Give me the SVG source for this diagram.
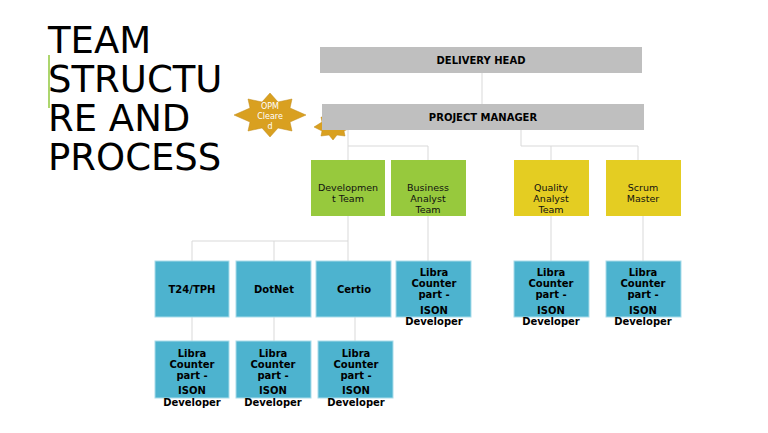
<svg xmlns="http://www.w3.org/2000/svg" width="768" height="433" viewBox="0 0 768 433">
<style>
text{font-family:"DejaVu Sans",sans-serif;text-anchor:middle}
.g{fill:#bfbfbf}.gr{fill:#97c93d}.y{fill:#e4cd22}.b{fill:#4db3cf;stroke:#a9dcea;stroke-width:1}
.bt{font-size:10px;font-weight:bold;fill:#000}
.nt{font-size:9.5px;fill:#111}
.c{stroke:#d9d9d9;stroke-width:1;fill:none}
.st{fill:#d9a020;stroke:#c08a18;stroke-width:0.5}
</style>
<rect width="768" height="433" fill="#fff"/>
<line x1="49" y1="55" x2="49" y2="108" stroke="#92c83e" stroke-width="1.5"/>
<text x="48" y="53" style="text-anchor:start;font-size:37px;fill:#000">TEAM</text>
<text x="48" y="92" style="text-anchor:start;font-size:37px;fill:#000">STRUCTU</text>
<text x="48" y="131" style="text-anchor:start;font-size:37px;fill:#000">RE AND</text>
<text x="48" y="170" style="text-anchor:start;font-size:37px;fill:#000">PROCESS</text>
<g id="connectors" class="c">
<path d="M482 73V104"/>
<path d="M348 130V160M348 146H428V160"/>
<path d="M521 130V146H638V160M551 146V160"/>
<path d="M348 216V241H192V261M274 241V261M348 241V261"/>
<path d="M428 216V261M551 216V261M643 216V261"/>
<path d="M192 317V341M274 317V341M355 317V341"/>
</g>
<g id="star1"><polygon class="st" points="270,93 278,102 292,99 290,108 306,115 290,122 292,131 278,128 270,137 262,128 248,131 250,122 234,115 250,108 248,99 262,102"/>
<text x="270" y="109" style="font-size:8px;fill:#fff">OPM</text><text x="270" y="119" style="font-size:8px;fill:#fff">Cleare</text><text x="270" y="129" style="font-size:8px;fill:#fff">d</text></g>
<g id="star2"><polygon class="st" points="333,113 337,118 345,117 344,122 352,127 344,131 345,136 337,135 333,140 329,135 321,136 322,131 314,127 322,122 321,117 329,118"/>
<text x="333" y="129" style="font-size:5px;fill:#fff">OPM</text></g>
<g id="dh"><rect class="g" x="320" y="47" width="322" height="26"/><text class="bt" x="481" y="64">DELIVERY HEAD</text></g>
<g id="pm"><rect class="g" x="322" y="104" width="322" height="26"/><text class="bt" x="483" y="121">PROJECT MANAGER</text></g>
<g id="dev"><rect class="gr" x="311" y="160" width="74" height="56"/><text class="nt" x="348" y="191">Developmen</text><text class="nt" x="348" y="202">t Team</text></g>
<g id="ba"><rect class="gr" x="391" y="160" width="75" height="56"/><text class="nt" x="428" y="191">Business</text><text class="nt" x="428" y="202">Analyst</text><text class="nt" x="428" y="213">Team</text></g>
<g id="qa"><rect class="y" x="514" y="160" width="75" height="56"/><text class="nt" x="551" y="191">Quality</text><text class="nt" x="551" y="202">Analyst</text><text class="nt" x="551" y="213">Team</text></g>
<g id="sm"><rect class="y" x="606" y="160" width="75" height="56"/><text class="nt" x="643" y="191">Scrum</text><text class="nt" x="643" y="202">Master</text></g>
<g id="t24"><rect class="b" x="155" y="261" width="74" height="56"/><text class="bt" x="192" y="293">T24/TPH</text></g>
<g id="dotnet"><rect class="b" x="236" y="261" width="75" height="56"/><text class="bt" x="274" y="293">DotNet</text></g>
<g id="certio"><rect class="b" x="316" y="261" width="75" height="56"/><text class="bt" x="354" y="293">Certio</text></g>
<g id="l1"><rect class="b" x="396" y="261" width="75" height="56"/><text class="bt" x="434" y="276">Libra</text><text class="bt" x="434" y="287">Counter</text><text class="bt" x="434" y="298">part -</text><text class="bt" x="434" y="314">ISON</text><text class="bt" x="434" y="325">Developer</text></g>
<g id="l2"><rect class="b" x="514" y="261" width="75" height="56"/><text class="bt" x="551" y="276">Libra</text><text class="bt" x="551" y="287">Counter</text><text class="bt" x="551" y="298">part -</text><text class="bt" x="551" y="314">ISON</text><text class="bt" x="551" y="325">Developer</text></g>
<g id="l3"><rect class="b" x="606" y="261" width="75" height="56"/><text class="bt" x="643" y="276">Libra</text><text class="bt" x="643" y="287">Counter</text><text class="bt" x="643" y="298">part -</text><text class="bt" x="643" y="314">ISON</text><text class="bt" x="643" y="325">Developer</text></g>
<g id="l4"><rect class="b" x="155" y="341" width="74" height="57"/><text class="bt" x="192" y="357">Libra</text><text class="bt" x="192" y="368">Counter</text><text class="bt" x="192" y="379">part -</text><text class="bt" x="192" y="394">ISON</text><text class="bt" x="192" y="406">Developer</text></g>
<g id="l5"><rect class="b" x="236" y="341" width="75" height="57"/><text class="bt" x="273" y="357">Libra</text><text class="bt" x="273" y="368">Counter</text><text class="bt" x="273" y="379">part -</text><text class="bt" x="273" y="394">ISON</text><text class="bt" x="273" y="406">Developer</text></g>
<g id="l6"><rect class="b" x="318" y="341" width="75" height="57"/><text class="bt" x="356" y="357">Libra</text><text class="bt" x="356" y="368">Counter</text><text class="bt" x="356" y="379">part -</text><text class="bt" x="356" y="394">ISON</text><text class="bt" x="356" y="406">Developer</text></g>
</svg>
